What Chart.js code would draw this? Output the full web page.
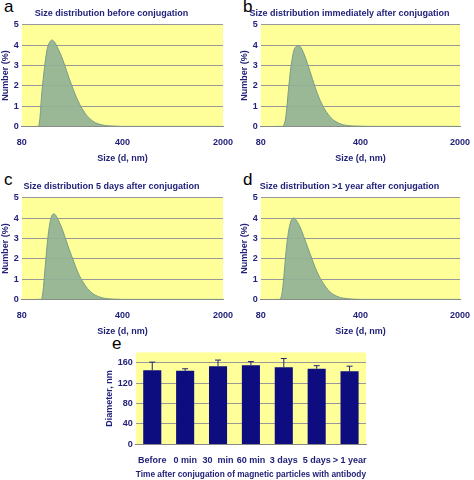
<!DOCTYPE html>
<html>
<head>
<meta charset="UTF-8">
<script src="https://cdn.jsdelivr.net/npm/chart.js@4.4.0/dist/chart.umd.min.js"></script>
<style>
  body { margin: 0; background: #fff; font-family: 'Liberation Sans', Arial, sans-serif; }
  .panel { position: absolute; }
  .lbl { position: absolute; font-size: 17px; color: #000; }
</style>
</head>
<body>
<div class="lbl" style="left:4px;top:-3px">a</div>
<div class="lbl" style="left:243px;top:-3px">b</div>
<div class="lbl" style="left:4px;top:170px">c</div>
<div class="lbl" style="left:243px;top:170px">d</div>
<div class="lbl" style="left:112px;top:334px">e</div>
<div class="panel" style="left:0;top:8px;width:237px;height:158px"><canvas id="ca"></canvas></div>
<div class="panel" style="left:239px;top:8px;width:235px;height:158px"><canvas id="cb"></canvas></div>
<div class="panel" style="left:0;top:181px;width:237px;height:158px"><canvas id="cc"></canvas></div>
<div class="panel" style="left:239px;top:181px;width:235px;height:158px"><canvas id="cd"></canvas></div>
<div class="panel" style="left:104px;top:344px;width:296px;height:136px"><canvas id="ce"></canvas></div>
<script>
// size bins (nm) and number (%) for each distribution
const sizes = [100, 105, 110, 115, 120, 125, 130, 135, 140, 150, 160, 170, 185, 200, 220, 240, 260, 290, 320, 360, 400, 500, 1000, 2000];
const distBefore = [0, 0, 1.6, 2.9, 3.8, 4.15, 4.25, 4.15, 3.95, 3.5, 2.95, 2.4, 1.7, 1.15, 0.65, 0.35, 0.18, 0.07, 0.03, 0.01, 0, 0, 0, 0];
const distAfter = [0, 0, 0, 0, 0.5, 1.8, 2.9, 3.6, 3.9, 3.95, 3.6, 3.1, 2.3, 1.6, 0.95, 0.55, 0.3, 0.12, 0.05, 0.02, 0.01, 0, 0, 0];
const dist5Days = [0, 0, 0, 1.2, 2.7, 3.7, 4.15, 4.2, 4.05, 3.6, 3.05, 2.5, 1.8, 1.2, 0.7, 0.38, 0.2, 0.08, 0.03, 0.01, 0, 0, 0, 0];
const dist1Year = [0, 0, 0, 0.8, 2.3, 3.3, 3.85, 4.0, 3.95, 3.6, 3.1, 2.6, 1.9, 1.3, 0.78, 0.43, 0.23, 0.09, 0.04, 0.01, 0, 0, 0, 0];
const xTicks = [80, 400, 2000];

const timeLabels = ['Before', '0 min', '30  min', '60 min', '3 days', '5 days', '> 1 year'];
const diameters = [145, 144, 153, 155, 151, 148, 143];
const diameterErr = [16, 4, 12, 7, 17, 6, 10];

const navy = '#22227a';
const font = { family: "'Liberation Sans', Arial, sans-serif", weight: 'bold', size: 9 };

const yellowBg = {
  id: 'yellowBg',
  beforeDraw(chart) {
    const { ctx, chartArea: a } = chart;
    ctx.save();
    ctx.fillStyle = '#ffff99';
    ctx.fillRect(a.left, a.top, a.right - a.left, a.bottom - a.top);
    ctx.restore();
  }
};

function histogram(id, title, values) {
  new Chart(document.getElementById(id), {
    type: 'line',
    data: {
      datasets: [{
        data: sizes.map((s, i) => ({ x: s, y: values[i] })),
        fill: 'origin',
        backgroundColor: 'rgba(145,178,150,0.92)',
        borderColor: '#7a9c88',
        borderWidth: 1,
        pointRadius: 0,
        tension: 0.35
      }]
    },
    options: {
      responsive: true, maintainAspectRatio: false, animation: false,
      layout: { padding: { right: 14, left: 0 } },
      plugins: {
        legend: { display: false }, tooltip: { enabled: false },
        title: { display: true, text: title, color: navy, font: font, padding: { top: 0, bottom: 6 } }
      },
      scales: {
        x: {
          type: 'logarithmic', min: 80, max: 2000,
          afterBuildTicks: ax => { ax.ticks = xTicks.map(v => ({ value: v })); },
          ticks: { color: navy, font: font, maxRotation: 0, callback: v => String(v) },
          grid: { display: false },
          border: { color: '#888' },
          title: { display: true, text: 'Size (d, nm)', color: navy, font: font, padding: 2 }
        },
        y: {
          min: 0, max: 5,
          ticks: { stepSize: 1, color: navy, font: font },
          grid: { color: '#999', drawTicks: false },
          border: { display: false },
          title: { display: true, text: 'Number (%)', color: navy, font: font, padding: 0 }
        }
      }
    },
    plugins: [yellowBg]
  });
}

histogram('ca', 'Size distribution before conjugation', distBefore);
histogram('cb', 'Size distribution immediately after conjugation', distAfter);
histogram('cc', 'Size distribution 5 days after conjugation', dist5Days);
histogram('cd', 'Size distribution >1 year after conjugation', dist1Year);

const errorBars = {
  id: 'errorBars',
  afterDatasetsDraw(chart) {
    const { ctx, scales: { y } } = chart;
    const meta = chart.getDatasetMeta(0);
    ctx.save();
    ctx.strokeStyle = navy;
    ctx.lineWidth = 1;
    meta.data.forEach((bar, i) => {
      const top = y.getPixelForValue(diameters[i] + diameterErr[i]);
      const base = y.getPixelForValue(diameters[i]);
      ctx.beginPath();
      ctx.moveTo(bar.x, base); ctx.lineTo(bar.x, top);
      ctx.moveTo(bar.x - 3, top); ctx.lineTo(bar.x + 3, top);
      ctx.stroke();
    });
    ctx.restore();
  }
};

new Chart(document.getElementById('ce'), {
  type: 'bar',
  data: {
    labels: timeLabels,
    datasets: [{ data: diameters, backgroundColor: '#0d0d80', barPercentage: 0.55, categoryPercentage: 1 }]
  },
  options: {
    responsive: true, maintainAspectRatio: false, animation: false,
    layout: { padding: { right: 34, top: 4 } },
    plugins: { legend: { display: false }, tooltip: { enabled: false } },
    scales: {
      x: {
        ticks: { color: navy, font: font, maxRotation: 0, autoSkip: false },
        grid: { display: false },
        border: { color: '#888' },
        title: { display: true, text: 'Time after conjugation of magnetic particles with antibody', color: navy, font: font, padding: 0 }
      },
      y: {
        min: 0, max: 180,
        afterBuildTicks: ax => { ax.ticks = [0, 40, 80, 120, 160].map(v => ({ value: v })); },
        ticks: { color: navy, font: font },
        grid: { color: '#999', drawTicks: false },
        border: { display: false },
        title: { display: true, text: 'Diameter, nm', color: navy, font: font, padding: 0 }
      }
    }
  },
  plugins: [yellowBg, errorBars]
});
</script>
</body>
</html>
